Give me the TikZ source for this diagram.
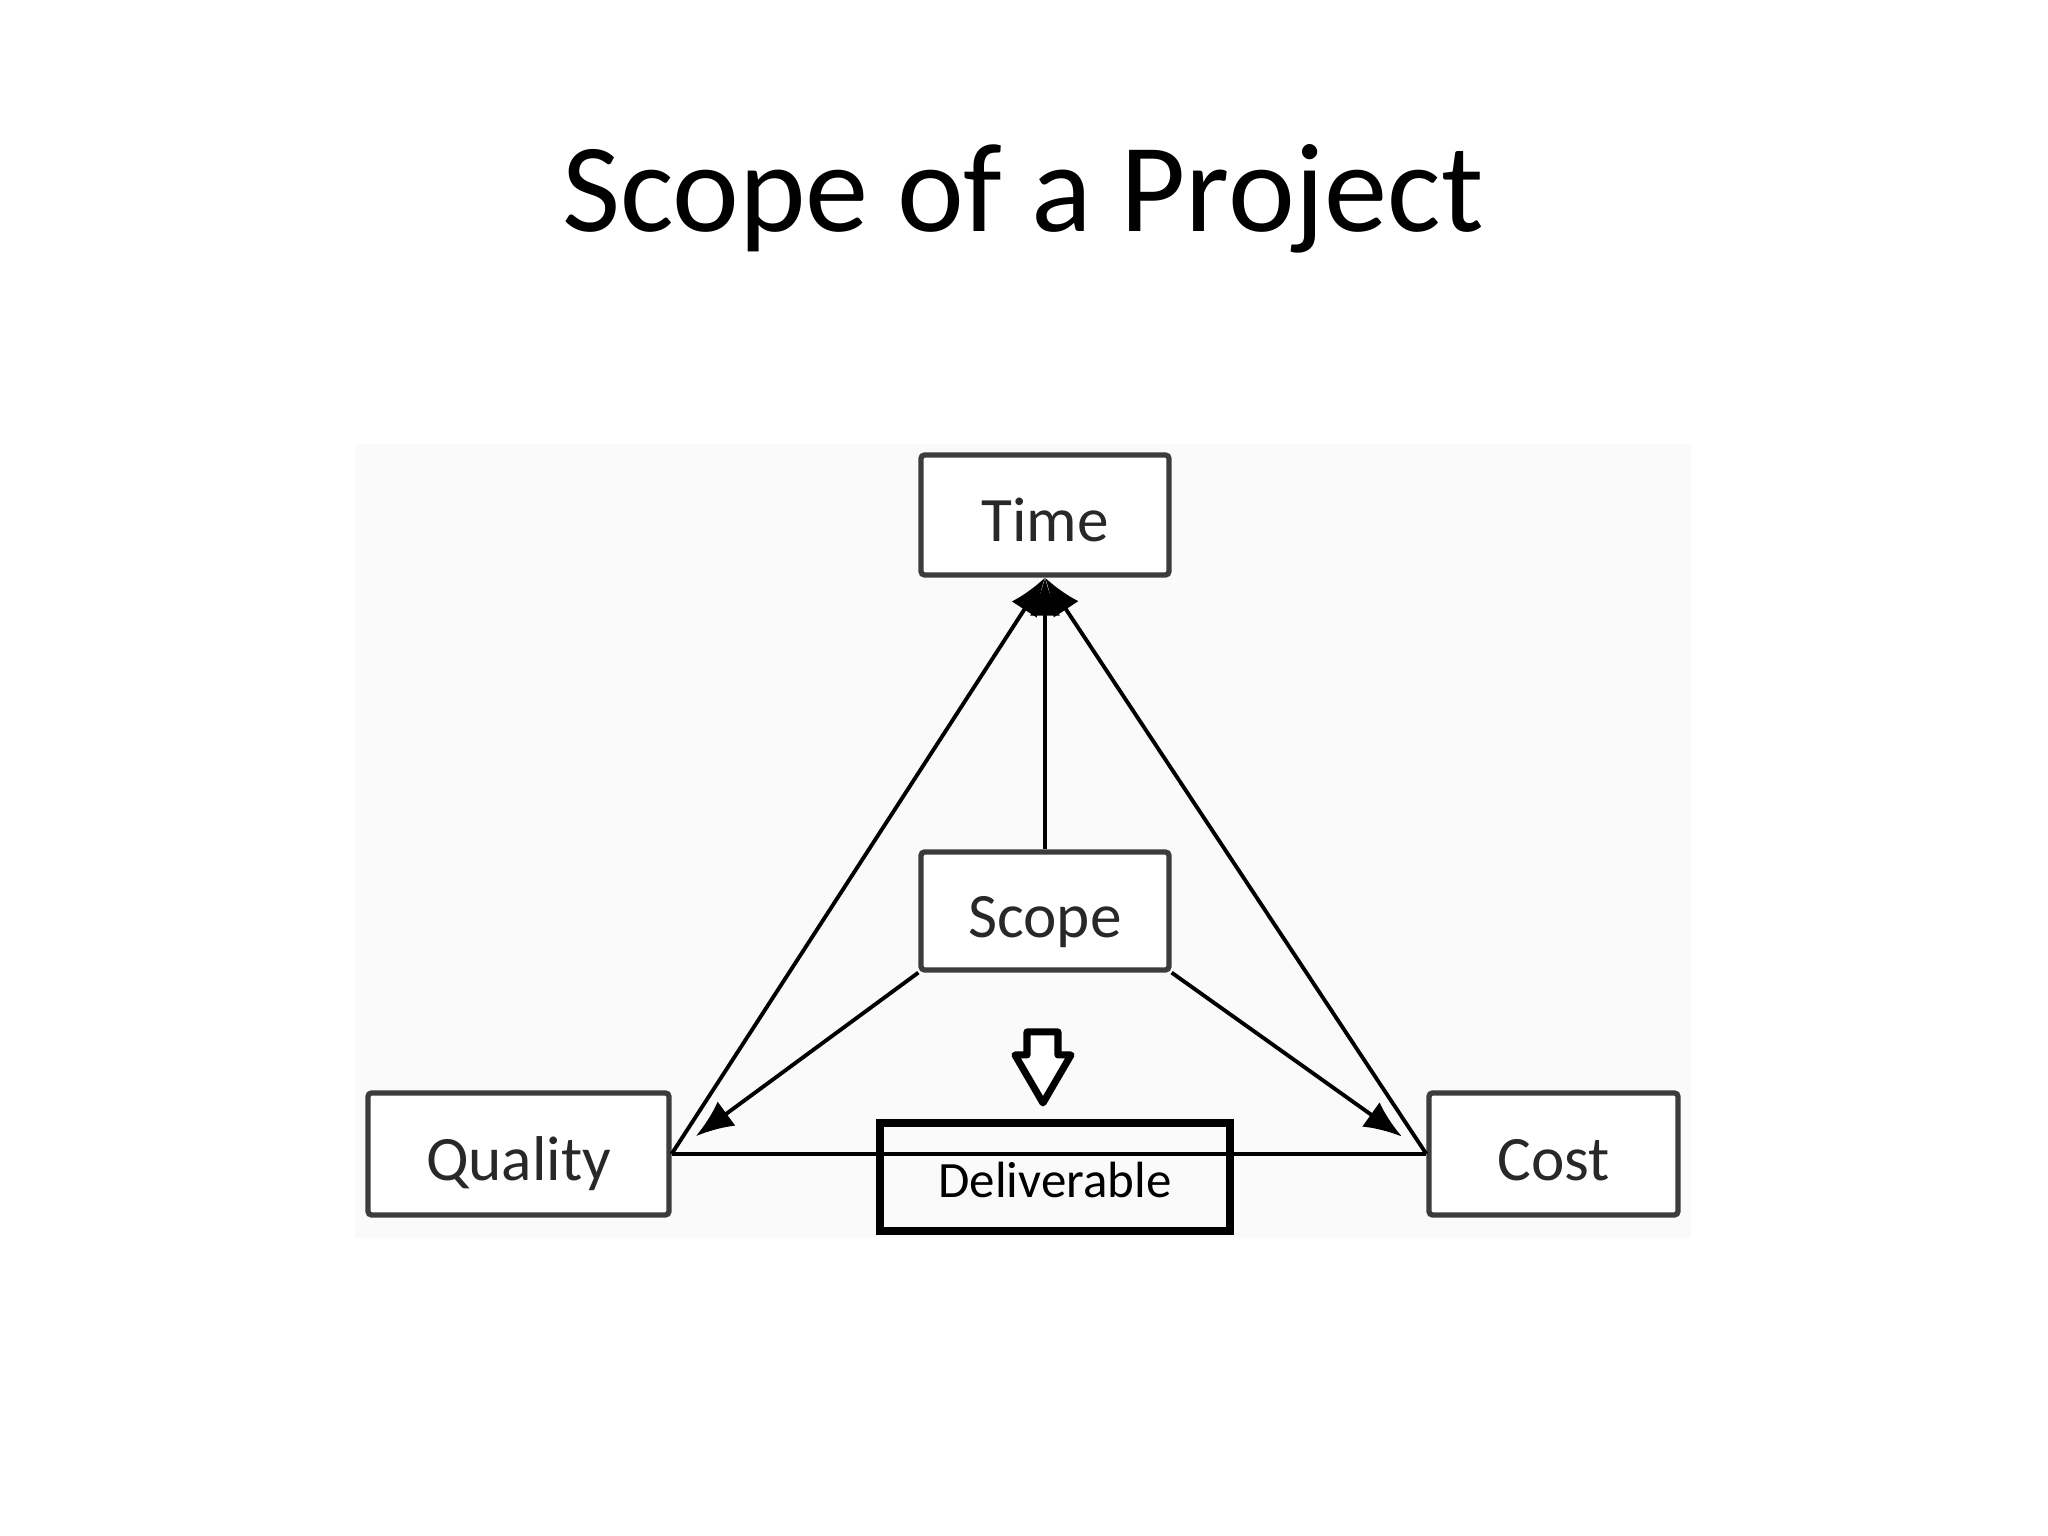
\documentclass[tikz,border=0pt]{standalone}
\usepackage{fontspec}
\setmainfont{Carlito}
\usepackage{tikz}
\usetikzlibrary{arrows.meta}
\definecolor{boxline}{RGB}{60,60,60}
\definecolor{boxtext}{RGB}{40,40,40}
\definecolor{panel}{RGB}{250,250,250}
\tikzset{
  boxnode/.style={draw=boxline,line width=1.5pt,rounded corners=1pt,fill=white,
    minimum width=2.48cm,minimum height=1.2cm,inner sep=0pt,
    text height=0.6cm,text depth=0.06cm,
    font=\fontsize{18}{20}\selectfont,text=boxtext},
  delivbox/.style={draw=black,line width=2.2pt,minimum width=3.5cm,minimum height=1.08cm,
    inner sep=0pt,text height=0.48cm,text depth=0.06cm,font=\fontsize{14.5}{16}\selectfont},
  link/.style={draw=black,line width=1.1pt},
  linkarrow/.style={link,-{Latex[length=0.38cm,width=0.3cm]}}
}

\begin{document}
\begin{tikzpicture}
\useasboundingbox (0,0) rectangle (20.48,15.36);
%Title
\node[anchor=base,font=\fontsize{36}{40}\selectfont] (title) at (10.23,13.04) {Scope of a Project};
%Panel
\fill[panel] (3.55,2.98) rectangle (16.91,10.92);
%Boxes
\node[boxnode] (time) at (10.45,10.21) {Time};
\node[boxnode,minimum height=1.18cm] (scope) at (10.45,6.25) {Scope};
\node[boxnode,minimum width=3.01cm,minimum height=1.22cm] (quality) at (5.185,3.82) {Quality};
\node[boxnode,minimum width=2.49cm,minimum height=1.22cm] (cost) at (15.535,3.82) {Cost};
%Links
\draw[link] (quality.east) -- (cost.west);
\draw[linkarrow] (quality.east) -- (time.south);
\draw[linkarrow] (cost.west) -- (time.south);
\draw[linkarrow] (scope.north) -- (time.south);
\draw[linkarrow,shorten >=0.3cm] (scope.south west) -- (quality.east);
\draw[linkarrow,shorten >=0.3cm] (scope.south east) -- (cost.west);
%Deliverable
\node[delivbox] (deliv) at (10.55,3.59) {Deliverable};
\filldraw[line width=2pt,line join=round,fill=white] (10.27,5.04) -- (10.58,5.04) -- (10.58,4.81)
  -- (10.71,4.81) -- (10.43,4.33) -- (10.15,4.81) -- (10.27,4.81) -- cycle;
\end{tikzpicture}
\end{document}
